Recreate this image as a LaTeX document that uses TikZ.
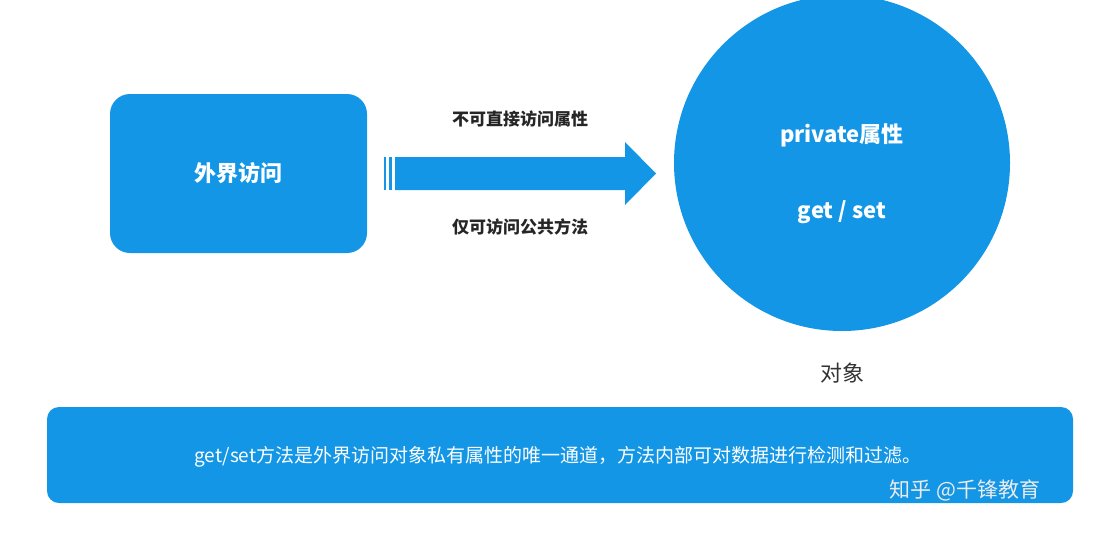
\documentclass[tikz,border=0pt]{standalone}
\usepackage{fontspec}
\setmainfont{Noto Sans CJK SC}
\begin{document}
\begin{tikzpicture}[x=1pt,y=-1pt,
  blu/.style={fill=myblue,draw=none},
  wt/.style={text=white,font=\bfseries\fontsize{22}{26}\selectfont},
  lbl/.style={text=black!85,font=\bfseries\fontsize{17}{20}\selectfont}]
\definecolor{myblue}{HTML}{1396E6}
\useasboundingbox (0,0) rectangle (1115,541);
\begin{scope}
\clip (0,0) rectangle (1115,541);
\node[blu,circle,minimum size=336pt,inner sep=0] (obj) at (842,163) {};
\end{scope}
\node[blu,rounded corners=20pt,minimum width=257pt,minimum height=159pt] (ext) at (238.5,173.5) {};
\node[wt] (extt) at (ext) {外界访问};
\node[wt] (p1) at (842,135) {private属性};
\node[wt] (p2) at (842,212) {get / set};
\fill[myblue] (384,157) rectangle (386,190);
\fill[myblue] (389,157) rectangle (392,190);
\fill[myblue] (395,157) -- (625,157) -- (625,142) -- (656,173.5) -- (625,205) -- (625,190) -- (395,190) -- cycle;
\coordinate (atip) at (656,173.5);
\node[lbl] (t1) at (520,119) {不可直接访问属性};
\node[lbl] (t2) at (520,227) {仅可访问公共方法};
\node[text=black!80,font=\fontsize{22}{26}\selectfont] (o) at (842,373) {对象};
\node[blu,rounded corners=12pt,minimum width=1026pt,minimum height=96pt] (bar) at (560,455) {};
\node[text=white,font=\fontsize{19}{22}\selectfont] (bt) at (558,457) {get/set方法是外界访问对象私有属性的唯一通道，方法内部可对数据进行检测和过滤。};
\node[text=white!92!black,font=\fontsize{21}{24}\selectfont] (wm) at (965,490) {知乎 @千锋教育};
\end{tikzpicture}
\end{document}
